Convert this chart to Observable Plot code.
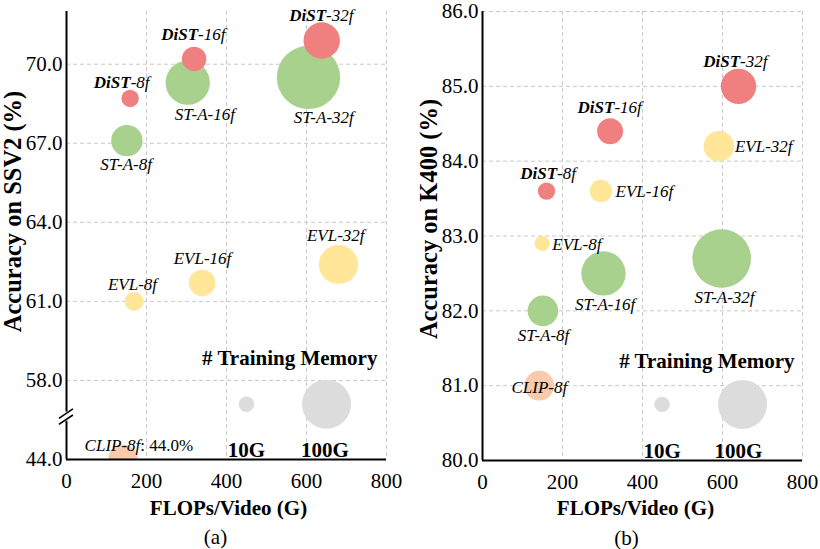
<!DOCTYPE html>
<html>
<head>
<meta charset="utf-8">
<script src="https://cdn.jsdelivr.net/npm/d3@7"></script>
<script src="https://cdn.jsdelivr.net/npm/@observablehq/plot@0.6"></script>
<style>
  body { margin: 0; background: #fff; }
  #wrap { display: flex; width: 820px; height: 549px; background: #fff; }
  #wrap svg { display: block; }
</style>
</head>
<body>
<div id="wrap"></div>
<script>
// ---------- shared ----------
const families = ["DiST", "ST-A", "EVL", "CLIP", "Memory"];
const familyColors = ["#F08080", "#A9D18E", "#FFE699", "#F8CBAD", "#DCDCDC"];
const modelFamily = ["ST-A", "ST-A", "ST-A", "EVL", "EVL", "EVL", "DiST", "DiST", "DiST", "CLIP"];
const xTicks = [0, 200, 400, 600, 800];

// ---------- (a) SSV2 ----------
const flopsA = [151, 303, 605, 169, 339, 680, 159, 319, 638, 141];
const accA   = [67.1, 69.3, 69.5, 61.0, 61.7, 62.4, 68.7, 70.2, 70.9, 44.0];
const memA   = [41, 82, 167, 15, 29.5, 64, 12.6, 25, 55, 36];
const labelTextA = ["ST-A-8f", "ST-A-16f", "ST-A-32f", "EVL-8f", "EVL-16f", "EVL-32f", "DiST-8f", "DiST-16f", "DiST-32f", "CLIP-8f: 44.0%"];
const labelXA = [149, 346, 643, 165, 340, 673, 138, 317, 637, 181];
const labelYA = [66.2, 68.09, 67.99, 61.63, 62.63, 63.48, 69.32, 71.13, 71.86, 44.54];
const yTicksA = [44, 58, 61, 64, 67, 70];
const yGridA  = [58, 61, 64, 67, 70];
const yTopA = 72;
// broken axis: values below 50 are shown shifted up next to 58
const breakShift = 11;
const yDisp = v => (v < 50 ? v + breakShift : v);

const legendMem = [10, 100];
const legendText = ["10G", "100G"];
const legendXA = [450, 650];
const legendYA = 57.1;
const legendTextXA = [450, 646];
const legendTextYA = 55.35;
const legendTitleA = {x: 558, y: 58.86};

// ---------- (b) K400 ----------
const flopsB = [151, 302.5, 598, 149, 296, 591, 160, 319, 640, 142];
const accB   = [82.0, 82.5, 82.7, 82.9, 83.6, 84.2, 83.6, 84.4, 85.0, 81.0];
const memB   = [39, 82, 143, 9.4, 21, 39, 12.6, 28, 52, 36.5];
const labelTextB = ["ST-A-8f", "ST-A-16f", "ST-A-32f", "EVL-8f", "EVL-16f", "EVL-32f", "DiST-8f", "DiST-16f", "DiST-32f", "CLIP-8f"];
const labelXB = [152.5, 306.7, 605, 236, 404.7, 703, 164, 318, 632, 142];
const labelYB = [81.67, 82.09, 82.18, 82.89, 83.59, 84.19, 83.84, 84.71, 85.33, 80.98];
const yTicksB = [80, 81, 82, 83, 84, 85, 86];
const yGridB  = [81, 82, 83, 84, 85, 86];
const legendXB = [449, 650];
const legendYB = 80.75;
const legendTextXB = [449, 640];
const legendTextYB = 80.13;
const legendTitleB = {x: 561, y: 81.33};

const font = "'Liberation Serif', 'Times New Roman', serif";
const gridStyle = {stroke: "#c8c8c8", strokeOpacity: 1, strokeWidth: 1, strokeDasharray: "4,3"};

function rows(flops, acc, mem) {
  return flops.map((f, i) => ({x: f, y: yDisp(acc[i]), r: mem[i], family: modelFamily[i]}));
}
function labelRows(texts, xs, ys) {
  return texts.map((t, i) => ({text: t, x: xs[i], y: yDisp(ys[i])}));
}

function makeChart(cfg) {
  const pts = rows(cfg.flops, cfg.acc, cfg.mem);
  const labels = labelRows(cfg.labelText, cfg.labelX, cfg.labelY);
  const legend = legendMem.map((m, i) => ({x: cfg.legendX[i], y: cfg.legendY, r: m, family: "Memory"}));
  const legendLabels = legendText.map((t, i) => ({text: t, x: cfg.legendTextX[i], y: cfg.legendTextY}));
  return Plot.plot({
    width: 410,
    height: 549,
    marginLeft: cfg.marginLeft,
    marginRight: cfg.marginRight,
    marginTop: 11,
    marginBottom: cfg.marginBottom,
    x: {domain: [0, 800], axis: null},
    y: {domain: cfg.yDomain, axis: null},
    r: {type: "sqrt", domain: [0, 100], range: [0, 24.5]},
    color: {domain: families, range: familyColors},
    style: {fontFamily: font, fontSize: "21px", background: "#fff", color: "#000"},
    marks: [
      Plot.gridX(xTicks.slice(1), gridStyle),
      Plot.gridY(cfg.yGrid.map(yDisp), gridStyle),
      Plot.axisX(xTicks, {tickSize: 0, tickPadding: 14, fontSize: 21, label: null, tickFormat: d => String(d)}),
      Plot.axisY(cfg.yTicks.map(yDisp), {tickSize: 0, tickPadding: 4, fontSize: 21, label: null,
        tickFormat: d => (d < 55.5 && cfg.broken ? d - breakShift : d).toFixed(1)}),
      Plot.dot(pts, {x: "x", y: "y", r: "r", fill: "family", sort: null, clip: true}),
      Plot.dot(legend, {x: "x", y: "y", r: "r", fill: "family", sort: null}),
      // axis lines
      Plot.ruleX(cfg.axisSegments, {x: 0, y1: "y1", y2: "y2", stroke: "#000", strokeWidth: 2}),
      Plot.ruleY([cfg.yDomain[0]], {stroke: "#000", strokeWidth: 2}),
      Plot.link(cfg.breakMarks, {x1: "x1", y1: "y1", x2: "x2", y2: "y2", stroke: "#000", strokeWidth: 1.6}),
      // labels
      Plot.text(labels, {x: "x", y: "y", text: "text", fontSize: 17, fontStyle: "italic", fill: "#000"}),
      Plot.text(legendLabels, {x: "x", y: "y", text: "text", fontSize: 21, fontWeight: "bold", fill: "#000"}),
      Plot.text([cfg.legendTitle], {x: "x", y: "y", text: () => "# Training Memory", fontSize: 21, fontWeight: "bold", fill: "#000"}),
      Plot.text(["FLOPs/Video (G)"], {frameAnchor: "bottom", textAnchor: "middle", lineAnchor: "middle", dx: cfg.xLabelDx, dy: cfg.xLabelDy, fontSize: 21, fontWeight: "bold", fill: "#000"}),
      Plot.text([cfg.yLabel], {frameAnchor: "left", rotate: -90, textAnchor: "middle", lineAnchor: "middle", dx: -53, dy: cfg.yLabelDy, fontSize: 24.5, fontWeight: "bold", fill: "#000"}),
      Plot.text([cfg.caption], {frameAnchor: "bottom", textAnchor: "middle", lineAnchor: "middle", dx: cfg.captionDx, dy: 78, fontSize: 21, fill: "#000"})
    ]
  });
}

function styleLabels(svg) {
  svg.querySelectorAll("text").forEach(t => {
    const s = t.textContent;
    let m;
    const ns = "http://www.w3.org/2000/svg";
    if ((m = s.match(/^(DiST)(-\d+f)$/))) {
      t.textContent = "";
      const a = document.createElementNS(ns, "tspan");
      a.setAttribute("font-weight", "bold");
      a.textContent = m[1];
      const b = document.createElementNS(ns, "tspan");
      b.textContent = m[2];
      t.appendChild(a); t.appendChild(b);
    } else if ((m = s.match(/^(CLIP-8f)(: .*)$/))) {
      t.textContent = "";
      const a = document.createElementNS(ns, "tspan");
      a.textContent = m[1];
      const b = document.createElementNS(ns, "tspan");
      b.setAttribute("font-style", "normal");
      b.textContent = m[2];
      t.appendChild(a); t.appendChild(b);
    }
  });
  return svg;
}

const chartA = makeChart({
  flops: flopsA, acc: accA, mem: memA,
  labelText: labelTextA, labelX: labelXA, labelY: labelYA,
  yTicks: yTicksA, yGrid: yGridA, yDomain: [yDisp(44), yTopA], broken: true,
  legendX: legendXA, legendY: legendYA, legendTextX: legendTextXA, legendTextY: legendTextYA, legendTitle: legendTitleA,
  marginLeft: 66, marginRight: 24, marginBottom: 90,
  axisSegments: [{y1: yTopA, y2: 56.8}, {y1: 56.45, y2: yDisp(44)}],
  breakMarks: [{x1: -19, y1: 56.56, x2: 16, y2: 56.92}, {x1: -19, y1: 56.33, x2: 16, y2: 56.69}],
  xLabelDx: 2, xLabelDy: 49, yLabel: "Accuracy on SSV2 (%)", yLabelDy: -24,
  caption: "(a)", captionDx: -11
});

const chartB = makeChart({
  flops: flopsB, acc: accB, mem: memB,
  labelText: labelTextB, labelX: labelXB, labelY: labelYB,
  yTicks: yTicksB, yGrid: yGridB, yDomain: [80, 86], broken: false,
  legendX: legendXB, legendY: legendYB, legendTextX: legendTextXB, legendTextY: legendTextYB, legendTitle: legendTitleB,
  marginLeft: 72, marginRight: 18, marginBottom: 89,
  axisSegments: [{y1: 86, y2: 80}],
  breakMarks: [],
  xLabelDx: -7, xLabelDy: 48, yLabel: "Accuracy on K400 (%)", yLabelDy: -17,
  caption: "(b)", captionDx: -16
});

const wrap = document.getElementById("wrap");
wrap.appendChild(styleLabels(chartA));
wrap.appendChild(styleLabels(chartB));
</script>
</body>
</html>
